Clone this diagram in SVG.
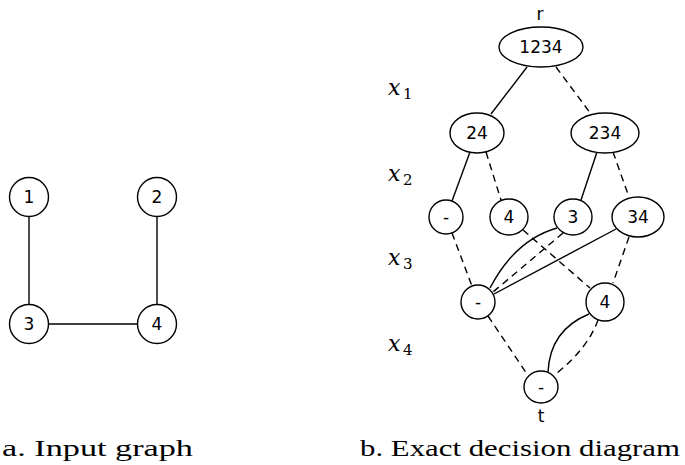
<svg xmlns="http://www.w3.org/2000/svg" width="685" height="465" viewBox="0 0 685 465">
<style>
.n{fill:#fff;stroke:#000;stroke-width:1.4}
.t{font-family:"DejaVu Sans",sans-serif;font-size:17px;text-anchor:middle;fill:#000}
.s{fill:none;stroke:#000;stroke-width:1.4}
.d{fill:none;stroke:#000;stroke-width:1.4;stroke-dasharray:7,5}
.v{font-family:"DejaVu Serif",serif;font-style:italic;font-size:22px;fill:#000}
.vs{font-family:"DejaVu Serif",serif;font-size:15px;fill:#000}
.c{font-family:"Liberation Serif","DejaVu Serif",serif;font-size:23px;fill:#000}
</style>
<rect width="685" height="465" fill="#fff"/>
<g id="edges">
<line class="s" x1="29" y1="216" x2="29" y2="305"/>
<line class="s" x1="157" y1="216" x2="157" y2="305"/>
<line class="s" x1="48" y1="324" x2="138" y2="324"/>
<path class="s" d="M527,67 L491,114"/>
<path class="d" d="M556,67 L591,114"/>
<path class="s" d="M470,152 L452,201"/>
<path class="d" d="M486,152 L501,200"/>
<path class="s" d="M597,152 L581,200"/>
<path class="d" d="M613,152 L629,197"/>
<path class="d" d="M452,233 L472,286"/>
<path class="d" d="M523,230 L590,288"/>
<path class="s" d="M557,228 Q515,240 490,288"/>
<path class="d" d="M563,233 L493,292"/>
<path class="s" d="M616,229 L494,294"/>
<path class="d" d="M629,237 L613,283"/>
<path class="d" d="M488,316 L527,374"/>
<path class="s" d="M589,314 Q550,330 548,372"/>
<path class="d" d="M598,320 Q588,348 557,373"/>
</g>
<g id="g1"><circle class="n" cx="29" cy="197" r="19.5"/><text class="t" x="29" y="203">1</text></g>
<g id="g2"><circle class="n" cx="157" cy="197" r="19.5"/><text class="t" x="157" y="203">2</text></g>
<g id="g3"><circle class="n" cx="29" cy="324" r="19.5"/><text class="t" x="29" y="330">3</text></g>
<g id="g4"><circle class="n" cx="157" cy="324" r="19.5"/><text class="t" x="157" y="330">4</text></g>
<g id="root"><ellipse class="n" cx="541" cy="47" rx="42" ry="20"/><text class="t" x="541" y="53">1234</text></g>
<g id="n24"><ellipse class="n" cx="477" cy="133" rx="27" ry="20"/><text class="t" x="477" y="139">24</text></g>
<g id="n234"><ellipse class="n" cx="605" cy="133" rx="34" ry="20"/><text class="t" x="605" y="139">234</text></g>
<g id="na"><ellipse class="n" cx="446" cy="217" rx="17" ry="17"/><text class="t" x="446" y="223">-</text></g>
<g id="nb"><ellipse class="n" cx="509" cy="217" rx="19" ry="18"/><text class="t" x="509" y="223">4</text></g>
<g id="nc"><ellipse class="n" cx="573" cy="217" rx="19" ry="18"/><text class="t" x="573" y="223">3</text></g>
<g id="nd"><ellipse class="n" cx="638" cy="217" rx="26" ry="20"/><text class="t" x="638" y="223">34</text></g>
<g id="ne"><ellipse class="n" cx="478" cy="302" rx="17" ry="17"/><text class="t" x="478" y="308">-</text></g>
<g id="nf"><ellipse class="n" cx="605" cy="302" rx="19" ry="19"/><text class="t" x="605" y="308">4</text></g>
<g id="nt"><ellipse class="n" cx="541" cy="387" rx="17" ry="16"/><text class="t" x="541" y="393">-</text></g>
<text class="t" x="540" y="20">r</text>
<text class="t" x="541" y="422">t</text>
<text class="v" x="388" y="95">x</text><text class="vs" x="403" y="99">1</text>
<text class="v" x="388" y="181">x</text><text class="vs" x="403" y="185">2</text>
<text class="v" x="388" y="265">x</text><text class="vs" x="403" y="269">3</text>
<text class="v" x="388" y="351">x</text><text class="vs" x="403" y="355">4</text>
<text class="c" x="2" y="456" textLength="191" lengthAdjust="spacingAndGlyphs">a.  Input graph</text>
<text class="c" x="360" y="456" textLength="320" lengthAdjust="spacingAndGlyphs">b.  Exact decision diagram</text>
</svg>
